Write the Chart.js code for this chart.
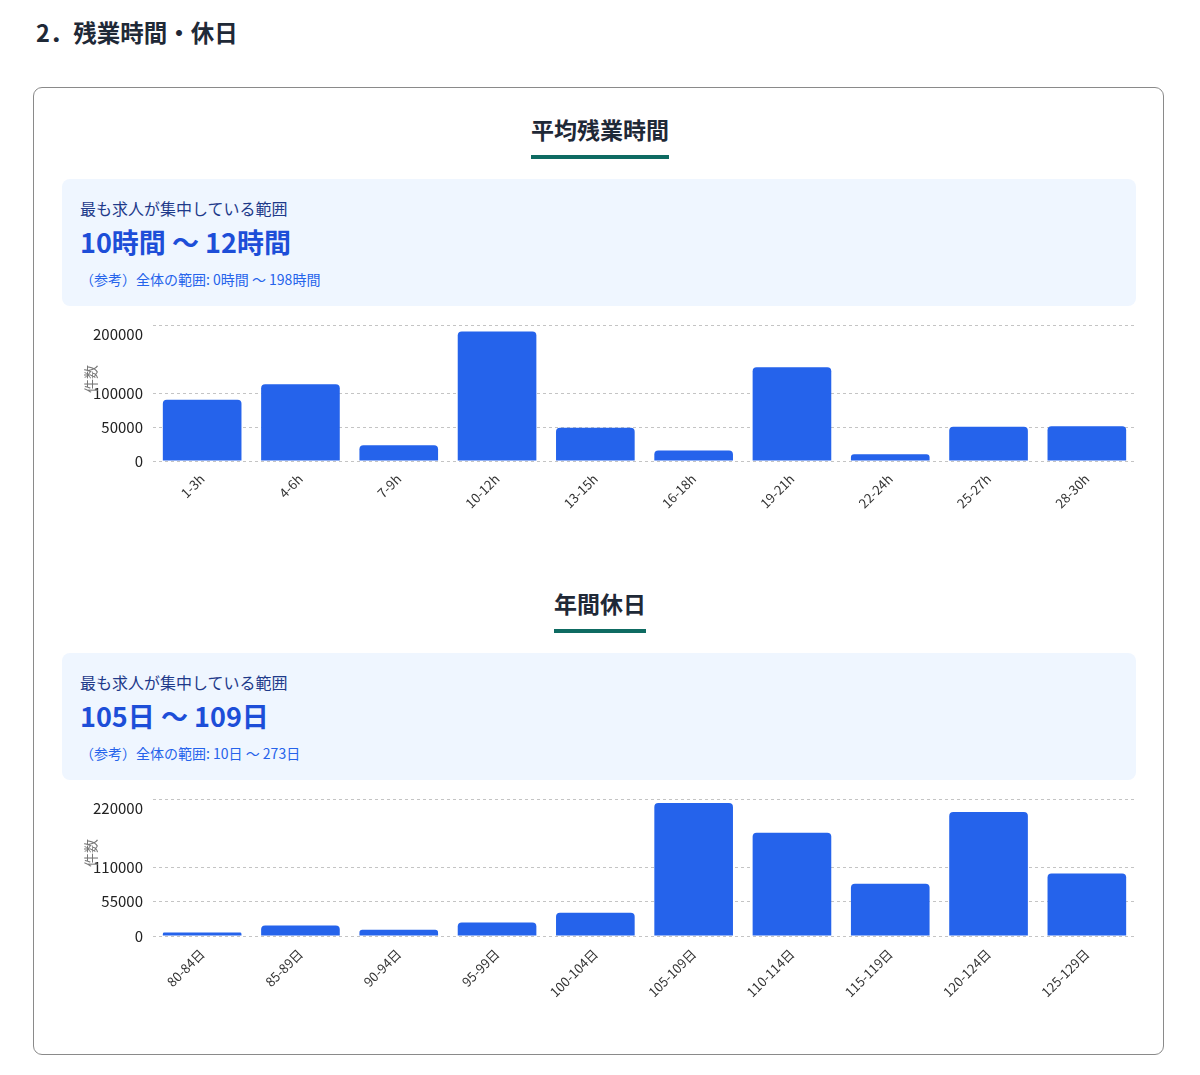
<!DOCTYPE html>
<html lang="ja">
<head>
<meta charset="utf-8">
<script src="https://cdn.jsdelivr.net/npm/chart.js@4.4.1/dist/chart.umd.min.js"></script>
<style>
  body { margin: 0; background: #fff; font-family: "Noto Sans CJK JP", "Noto Sans", sans-serif; }
  .page { position: relative; width: 1200px; height: 1075px; }
  h2 { position: absolute; left: 36px; top: 17px; margin: 0; font-size: 23.5px; line-height: 30px; font-weight: 700; color: #1f2937; }
  .card { position: absolute; left: 33px; top: 87px; width: 1129px; height: 966px; border: 1px solid #8a8a8a; border-radius: 9px; }
  .title { position: absolute; left: 0; width: 1200px; text-align: center; }
  .title span { display: inline-block; font-size: 23px; line-height: 30px; font-weight: 700; color: #1f2937; padding-bottom: 11px; border-bottom: 4px solid #0e6b62; }
  .box { position: absolute; left: 62px; width: 1074px; height: 127px; background: #eff6ff; border-radius: 8px; }
  .box .lead { position: absolute; left: 18px; top: 18px; font-size: 16px; line-height: 22px; color: #1e3a8a; }
  .box .main { position: absolute; left: 18px; top: 45px; font-size: 27px; line-height: 36px; font-weight: 700; color: #1d4ed8; }
  .box .note { position: absolute; left: 18px; top: 90px; font-size: 14px; line-height: 20px; color: #2563eb; }
  .chartwrap { position: absolute; left: 62px; width: 1074px; }
  .ytitle { position: absolute; left: 76px; font-size: 14px; line-height: 20px; color: #777; transform: rotate(-90deg); transform-origin: center; }
</style>
</head>
<body>
<div class="page">
  <h2>2．残業時間・休日</h2>
  <div class="card"></div>

  <div class="title" style="top:114px"><span>平均残業時間</span></div>
  <div class="box" style="top:179px">
    <div class="lead">最も求人が集中している範囲</div>
    <div class="main">10時間 〜 12時間</div>
    <div class="note">（参考）全体の範囲: 0時間 〜 198時間</div>
  </div>
  <div class="chartwrap" style="top:297px;height:224px"><canvas id="overtime"></canvas></div>
  <div class="ytitle" style="top:369px">件数</div>

  <div class="title" style="top:588px"><span>年間休日</span></div>
  <div class="box" style="top:653px">
    <div class="lead">最も求人が集中している範囲</div>
    <div class="main">105日 〜 109日</div>
    <div class="note">（参考）全体の範囲: 10日 〜 273日</div>
  </div>
  <div class="chartwrap" style="top:771px;height:235px"><canvas id="holiday"></canvas></div>
  <div class="ytitle" style="top:843px">件数</div>
</div>

<script>
const overtimeLabels = ["1-3h", "4-6h", "7-9h", "10-12h", "13-15h", "16-18h", "19-21h", "22-24h", "25-27h", "28-30h"];
const overtimeCounts = [90000, 113000, 23000, 190500, 49000, 15500, 138000, 10000, 50500, 51000];
const overtimeTicks = [0, 50000, 100000, 200000];

const holidayLabels = ["80-84日", "85-89日", "90-94日", "95-99日", "100-104日", "105-109日", "110-114日", "115-119日", "120-124日", "125-129日"];
const holidayCounts = [5500, 17000, 10000, 21500, 37500, 213500, 166000, 84000, 199000, 100500];
const holidayTicks = [0, 55000, 110000, 220000];

const makeChart = (id, labels, counts, ticks, xHeight) => {
  const top = ticks[ticks.length - 1];
  return new Chart(document.getElementById(id), {
    type: "bar",
    data: {
      labels: labels,
      datasets: [
        {
          data: counts,
          backgroundColor: "#2563eb",
          borderRadius: { topLeft: 4, topRight: 4 },
          borderSkipped: "bottom",
          categoryPercentage: 0.8,
          barPercentage: 1,
        },
      ],
    },
    options: {
      responsive: true,
      maintainAspectRatio: false,
      animation: false,
      layout: { padding: 0 },
      plugins: { legend: { display: false }, tooltip: { enabled: false } },
      scales: {
        x: {
          grid: { display: false },
          border: { display: false },
          ticks: {
            autoSkip: false,
            maxRotation: 45,
            minRotation: 45,
            padding: 2,
            color: "#333",
            font: { family: "Noto Sans CJK JP", size: 13 },
          },
          afterFit: (s) => { s.height = xHeight; },
        },
        y: {
          min: 0,
          max: top,
          grid: { color: "#c4c4c4", drawTicks: false },
          border: { display: false, dash: [3, 3] },
          ticks: {
            padding: 10,
            color: "#222",
            font: { family: "Noto Sans CJK JP", size: 15 },
            // top label sits a little below its line, as in the original
            callback: (v) => (v === top ? ["", String(v)] : String(v)),
          },
          afterBuildTicks: (s) => { s.ticks = ticks.map((v) => ({ value: v })); },
          afterFit: (s) => { s.width = 91; },
        },
      },
    },
  });
};

makeChart("overtime", overtimeLabels, overtimeCounts, overtimeTicks, 60);
makeChart("holiday", holidayLabels, holidayCounts, holidayTicks, 70);
</script>
</body>
</html>
